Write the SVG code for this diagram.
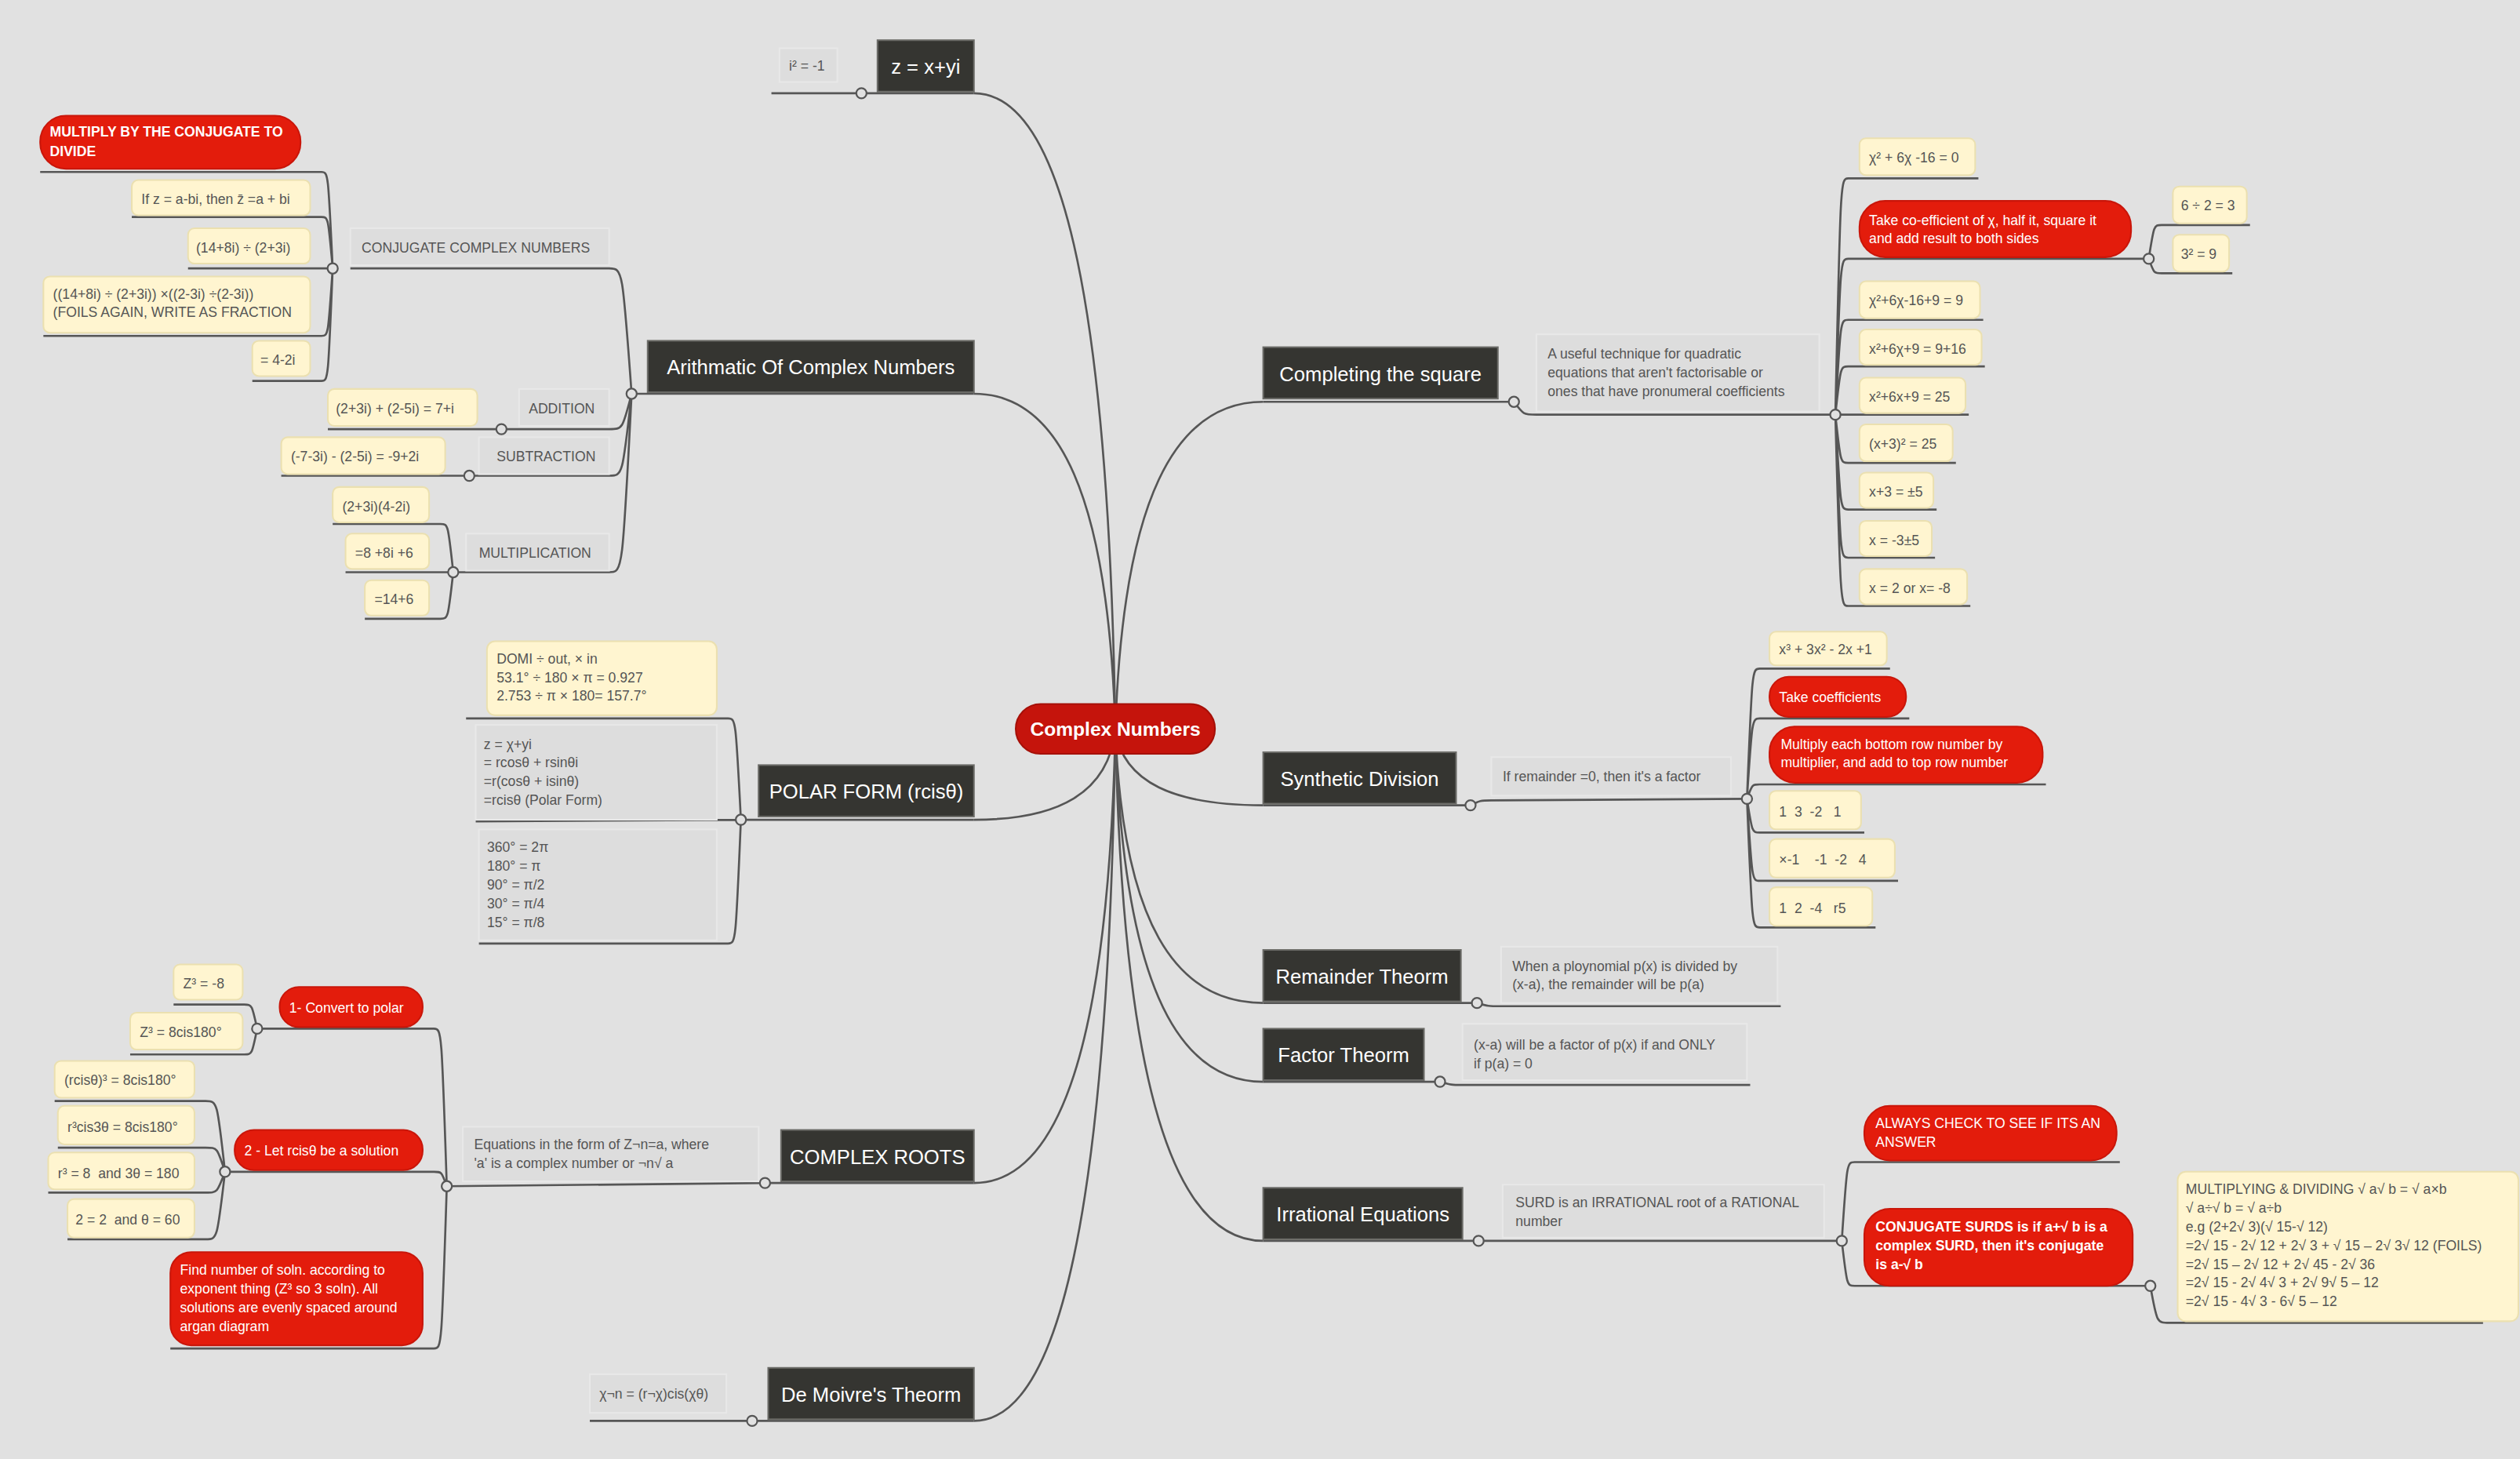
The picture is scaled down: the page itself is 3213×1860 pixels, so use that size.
<svg xmlns="http://www.w3.org/2000/svg" width="3213" height="1860" viewBox="0 0 3213 1860">
<style>
.c{fill:none;stroke:#565656;stroke-width:1.3}
.d{fill:#e1e1e1;stroke:#565656;stroke-width:1.1}
.m{fill:#353531;stroke:#6b6b67;stroke-width:1}
.mt{fill:#fff;font-family:"Liberation Sans",Arial,sans-serif;font-size:12.5px}
.y{fill:#fff5d0;stroke:#ebe0b0;stroke-width:1}
.g{fill:#dddddd;stroke:#e8e8e8;stroke-width:1}
.r{fill:#e31c0c;stroke:#c9160a;stroke-width:1}
.t{fill:#555;font-family:"Liberation Sans",Arial,sans-serif;font-size:8.6px;white-space:pre}
.rt{fill:#fff;font-family:"Liberation Sans",Arial,sans-serif;font-size:8.6px}
.b{font-weight:bold}
</style>
<rect width="3213" height="1860" fill="#e1e1e1"/>
<g transform="scale(2.04911)">
<g id="connectors">
<path class="c" d="M694,454 C689.6,176.8 658.8,58 606,58 M694,454 C689.6,307.7 658.8,245 606,245 M694,454 C689.6,493.2 658.8,510 606,510 M694,454 C689.6,651.4 658.8,736 606,736 M694,454 C689.6,755 658.8,884 606,884"/>
<path class="c" d="M694,454 C698.6,311.2 730.8,250 786,250 M694,454 C698.6,486.9 730.8,501 786,501 M694,454 C698.6,573 730.8,624 786,624 M694,454 C698.6,607.3 730.8,673 786,673 M694,454 C698.6,676.6 730.8,772 786,772"/>
<path class="c" d="M606,58 L480,58 M606,245 L393,245 M606,510 L461,510 M606,736 L476,736 M606,884 L367,884"/>
<path class="c" d="M786,250 L942,250 M786,501 L915,501 M786,624 L919,624 M786,673 L896,673 M786,772 L1146,772"/>
<path class="c" d="M393,245 C387.4,167 387.4,167 379,167 L218,167 M393,245 C387.4,267 387.4,267 379,267 L204,267 M393,245 C387.4,296 387.4,296 379,296 L175,296 M393,245 C387.4,356 387.4,356 379,356 L282,356"/>
<path class="c" d="M207,167 C204.2,107 204.2,107 200,107 L25,107 M207,167 C204.2,135 204.2,135 200,135 L82,135 M207,167 L117,167 M207,167 C204.2,209 204.2,209 200,209 L27,209 M207,167 C204.2,237 204.2,237 200,237 L157,237"/>
<path class="c" d="M282,356 C278.8,326 278.8,326 274,326 L207,326 M282,356 L215,356 M282,356 C278.8,385 278.8,385 274,385 L227,385"/>
<path class="c" d="M461,510 C457.8,447 457.8,447 453,447 L290,447 M461,510 L296,511 M461,510 C457.8,587 457.8,587 453,587 L298,587"/>
<path class="c" d="M476,736 L278,738 M278,738 C274.8,640 274.8,640 270,640 L160,640 M278,738 C274.8,729 274.8,729 270,729 L140,729 M278,738 C274.8,839 274.8,839 270,839 L106,839"/>
<path class="c" d="M160,640 C156.8,625 156.8,625 152,625 L108,625 M160,640 C156.8,656 156.8,656 152,656 L81,656"/>
<path class="c" d="M140,729 C135.2,685 135.2,685 128,685 L34,685 M140,729 C135.2,714 135.2,714 128,714 L36,714 M140,729 C135.2,742 135.2,742 128,742 L30,742 M140,729 C135.2,771 135.2,771 128,771 L42,771"/>
<path class="c" d="M942,250 C948,258 948,258 956,258 L1142,258"/>
<path class="c" d="M1142,258 C1145.2,111 1145.2,111 1150,111 L1231,111 M1142,258 C1145.2,161 1145.2,161 1150,161 L1337,161 M1142,258 C1145.2,199 1145.2,199 1150,199 L1234,199 M1142,258 C1145.2,228 1145.2,228 1150,228 L1235,228 M1142,258 L1225,258 M1142,258 C1145.2,288 1145.2,288 1150,288 L1217,288 M1142,258 C1145.2,317 1145.2,317 1150,317 L1205,317 M1142,258 C1145.2,347 1145.2,347 1150,347 L1204,347 M1142,258 C1145.2,377 1145.2,377 1150,377 L1226,377"/>
<path class="c" d="M1337,161 C1340.2,140 1340.2,140 1345,140 L1400,140 M1337,161 C1340.2,170 1340.2,170 1345,170 L1389,170"/>
<path class="c" d="M915,501 C921,498 921,498 928,498 L1087,497"/>
<path class="c" d="M1087,497 C1090.2,416 1090.2,416 1095,416 L1176,416 M1087,497 C1090.2,447 1090.2,447 1095,447 L1188,447 M1087,497 C1090.2,488 1090.2,488 1095,488 L1273,488 M1087,497 C1090.2,518 1090.2,518 1095,518 L1160,518 M1087,497 C1090.2,548 1090.2,548 1095,548 L1181,548 M1087,497 C1090.2,577 1090.2,577 1095,577 L1167,577"/>
<path class="c" d="M919,624 C926,626 926,626 934,626 L1108,626 M896,673 C903,675 903,675 910,675 L1089,675"/>
<path class="c" d="M1146,772 C1149.2,723 1149.2,723 1154,723 L1319,723 M1146,772 C1149.2,800 1149.2,800 1154,800 L1338,800 M1338,800 C1342,823 1342,823 1350,823 L1545,823"/>
</g>

<g id="center"><rect x="632" y="438" width="124" height="31" rx="15.5" fill="#c5140c" stroke="#a51008"/><text x="694" y="458" text-anchor="middle" class="mt b" style="font-size:12px">Complex Numbers</text></g>

<g id="n-z"><rect class="m" x="546" y="25" width="60" height="32"/><text class="mt" x="576" y="46" text-anchor="middle">z = x+yi</text></g>
<g id="n-i2"><rect class="g" x="485" y="30" width="36" height="21"/><text class="t" x="491" y="44">i² = -1</text></g>

<g id="n-arith"><rect class="m" x="403" y="212" width="203" height="32"/><text class="mt" x="504.5" y="233" text-anchor="middle">Arithmatic Of Complex Numbers</text></g>
<g id="n-conj"><rect class="g" x="218" y="142" width="161" height="23"/><text class="t" x="225" y="157">CONJUGATE COMPLEX NUMBERS</text></g>
<g id="n-mult-conj"><rect class="r" x="25" y="72" width="162" height="33" rx="16"/><text class="rt b" x="31" y="85">MULTIPLY BY THE CONJUGATE TO<tspan x="31" dy="12">DIVIDE</tspan></text></g>
<g id="n-ifz"><rect class="y" x="82" y="112" width="111" height="22" rx="4"/><text class="t" x="88" y="127">If z = a-bi, then z̄ =a + bi</text></g>
<g id="n-div"><rect class="y" x="117" y="142" width="76" height="22" rx="4"/><text class="t" x="122" y="157">(14+8i) ÷ (2+3i)</text></g>
<g id="n-foil"><rect class="y" x="27" y="172" width="166" height="35" rx="4"/><text class="t" x="33" y="186">((14+8i) ÷ (2+3i)) ×((2-3i) ÷(2-3i))<tspan x="33" dy="11">(FOILS AGAIN, WRITE AS FRACTION</tspan></text></g>
<g id="n-42i"><rect class="y" x="157" y="212" width="36" height="22" rx="4"/><text class="t" x="162" y="227">= 4-2i</text></g>
<g id="n-add"><rect class="g" x="323" y="242" width="56" height="23"/><text class="t" x="329" y="257">ADDITION</text></g>
<g id="n-add1"><rect class="y" x="204" y="242" width="93" height="23" rx="4"/><text class="t" x="209" y="257">(2+3i) + (2-5i) = 7+i</text></g>
<g id="n-sub"><rect class="g" x="298" y="272" width="81" height="23"/><text class="t" x="309" y="287">SUBTRACTION</text></g>
<g id="n-sub1"><rect class="y" x="175" y="272" width="102" height="23" rx="4"/><text class="t" x="181" y="287">(-7-3i) - (2-5i) = -9+2i</text></g>
<g id="n-mul"><rect class="g" x="290" y="332" width="89" height="23"/><text class="t" x="298" y="347">MULTIPLICATION</text></g>
<g id="n-mul1"><rect class="y" x="207" y="303" width="60" height="22" rx="4"/><text class="t" x="213" y="318">(2+3i)(4-2i)</text></g>
<g id="n-mul2"><rect class="y" x="215" y="332" width="52" height="22" rx="4"/><text class="t" x="221" y="347">=8 +8i +6</text></g>
<g id="n-mul3"><rect class="y" x="227" y="361" width="40" height="22" rx="4"/><text class="t" x="233" y="376">=14+6</text></g>

<g id="n-polar"><rect class="m" x="472" y="476" width="134" height="32"/><text class="mt" x="539" y="497" text-anchor="middle">POLAR FORM (rcisθ)</text></g>
<g id="n-domi"><rect class="y" x="303" y="399" width="143" height="46" rx="5"/><text class="t" x="309" y="413">DOMI ÷ out, × in<tspan x="309" dy="11.5">53.1° ÷ 180 × π = 0.927</tspan><tspan x="309" dy="11.5">2.753 ÷ π × 180= 157.7°</tspan></text></g>
<g id="n-zpol"><rect class="g" x="296" y="451" width="150" height="59"/><text class="t" x="301" y="466">z = χ+yi<tspan x="301" dy="11.5">= rcosθ + rsinθi</tspan><tspan x="301" dy="11.5">=r(cosθ + isinθ)</tspan><tspan x="301" dy="11.5">=rcisθ (Polar Form)</tspan></text></g>
<g id="n-deg"><rect class="g" x="298" y="516" width="148" height="69"/><text class="t" x="303" y="530">360° = 2π<tspan x="303" dy="11.7">180° = π</tspan><tspan x="303" dy="11.7">90° = π/2</tspan><tspan x="303" dy="11.7">30° = π/4</tspan><tspan x="303" dy="11.7">15° = π/8</tspan></text></g>

<g id="n-roots"><rect class="m" x="486" y="703" width="120" height="32"/><text class="mt" x="546" y="724" text-anchor="middle">COMPLEX ROOTS</text></g>
<g id="n-eqform"><rect class="g" x="288" y="701" width="184" height="34"/><text class="t" x="295" y="715">Equations in the form of Z¬n=a, where<tspan x="295" dy="11.5">'a' is a complex number or ¬n√ a</tspan></text></g>
<g id="n-conv"><rect class="r" x="174" y="614" width="89" height="25" rx="12"/><text class="rt" x="180" y="630">1- Convert to polar</text></g>
<g id="n-z3a"><rect class="y" x="108" y="600" width="43" height="22" rx="4"/><text class="t" x="114" y="615">Z³ = -8</text></g>
<g id="n-z3b"><rect class="y" x="81" y="630" width="70" height="23" rx="4"/><text class="t" x="87" y="645">Z³ = 8cis180°</text></g>
<g id="n-let"><rect class="r" x="146" y="703" width="117" height="25" rx="12"/><text class="rt" x="152" y="719">2 - Let rcisθ be a solution</text></g>
<g id="n-l1"><rect class="y" x="34" y="660" width="87" height="23" rx="4"/><text class="t" x="40" y="675">(rcisθ)³ = 8cis180°</text></g>
<g id="n-l2"><rect class="y" x="36" y="688" width="85" height="24" rx="4"/><text class="t" x="42" y="704">r³cis3θ = 8cis180°</text></g>
<g id="n-l3"><rect class="y" x="30" y="717" width="91" height="23" rx="4"/><text class="t" x="36" y="733">r³ = 8  and 3θ = 180</text></g>
<g id="n-l4"><rect class="y" x="42" y="746" width="79" height="24" rx="4"/><text class="t" x="47" y="762">2 = 2  and θ = 60</text></g>
<g id="n-find"><rect class="r" x="106" y="779" width="157" height="58" rx="13"/><text class="rt" x="112" y="793">Find number of soln. according to<tspan x="112" dy="11.7">exponent thing (Z³ so 3 soln). All</tspan><tspan x="112" dy="11.7">solutions are evenly spaced around</tspan><tspan x="112" dy="11.7">argan diagram</tspan></text></g>

<g id="n-demoivre"><rect class="m" x="478" y="851" width="128" height="32"/><text class="mt" x="542" y="872" text-anchor="middle">De Moivre's Theorm</text></g>
<g id="n-dm1"><rect class="g" x="367" y="855" width="85" height="24"/><text class="t" x="373" y="870">χ¬n = (r¬χ)cis(χθ)</text></g>

<g id="n-complete"><rect class="m" x="786" y="216" width="146" height="32"/><text class="mt" x="859" y="237" text-anchor="middle">Completing the square</text></g>
<g id="n-useful"><rect class="g" x="956" y="208" width="176" height="48"/><text class="t" x="963" y="223">A useful technique for quadratic<tspan x="963" dy="11.7">equations that aren't factorisable or</tspan><tspan x="963" dy="11.7">ones that have pronumeral coefficients</tspan></text></g>
<g id="n-c1"><rect class="y" x="1157" y="86" width="72" height="23" rx="4"/><text class="t" x="1163" y="101">χ² + 6χ -16 = 0</text></g>
<g id="n-c2"><rect class="r" x="1157" y="125" width="169" height="35" rx="16"/><text class="rt" x="1163" y="140">Take co-efficient of χ, half it, square it<tspan x="1163" dy="11.5">and add result to both sides</tspan></text></g>
<g id="n-c2a"><rect class="y" x="1352" y="116" width="46" height="23" rx="4"/><text class="t" x="1357" y="131">6 ÷ 2 = 3</text></g>
<g id="n-c2b"><rect class="y" x="1352" y="146" width="35" height="23" rx="4"/><text class="t" x="1357" y="161">3² = 9</text></g>
<g id="n-c3"><rect class="y" x="1157" y="175" width="75" height="23" rx="4"/><text class="t" x="1163" y="190">χ²+6χ-16+9 = 9</text></g>
<g id="n-c4"><rect class="y" x="1157" y="205" width="76" height="22" rx="4"/><text class="t" x="1163" y="220">x²+6χ+9 = 9+16</text></g>
<g id="n-c5"><rect class="y" x="1157" y="235" width="66" height="22" rx="4"/><text class="t" x="1163" y="250">x²+6x+9 = 25</text></g>
<g id="n-c6"><rect class="y" x="1157" y="264" width="58" height="23" rx="4"/><text class="t" x="1163" y="279">(x+3)² = 25</text></g>
<g id="n-c7"><rect class="y" x="1157" y="294" width="46" height="22" rx="4"/><text class="t" x="1163" y="309">x+3 = ±5</text></g>
<g id="n-c8"><rect class="y" x="1157" y="324" width="45" height="22" rx="4"/><text class="t" x="1163" y="339">x = -3±5</text></g>
<g id="n-c9"><rect class="y" x="1157" y="354" width="67" height="22" rx="4"/><text class="t" x="1163" y="369">x = 2 or x= -8</text></g>

<g id="n-synth"><rect class="m" x="786" y="468" width="120" height="32"/><text class="mt" x="846" y="489" text-anchor="middle">Synthetic Division</text></g>
<g id="n-ifrem"><rect class="g" x="928" y="471" width="149" height="24"/><text class="t" x="935" y="486">If remainder =0, then it's a factor</text></g>
<g id="n-s1"><rect class="y" x="1101" y="393" width="73" height="21" rx="4"/><text class="t" x="1107" y="407">x³ + 3x² - 2x +1</text></g>
<g id="n-s2"><rect class="r" x="1101" y="421" width="85" height="25" rx="12"/><text class="rt" x="1107" y="437">Take coefficients</text></g>
<g id="n-s3"><rect class="r" x="1101" y="452" width="170" height="35" rx="16"/><text class="rt" x="1108" y="466">Multiply each bottom row number by<tspan x="1108" dy="11.5">multiplier, and add to top row number</tspan></text></g>
<g id="n-s4"><rect class="y" x="1101" y="492" width="57" height="24" rx="4"/><text class="t" x="1107" y="508" xml:space="preserve">1  3  -2   1</text></g>
<g id="n-s5"><rect class="y" x="1101" y="522" width="78" height="24" rx="4"/><text class="t" x="1107" y="538" xml:space="preserve">×-1    -1  -2   4</text></g>
<g id="n-s6"><rect class="y" x="1101" y="552" width="64" height="24" rx="4"/><text class="t" x="1107" y="568" xml:space="preserve">1  2  -4   r5</text></g>

<g id="n-rem"><rect class="m" x="786" y="591" width="123" height="32"/><text class="mt" x="847.5" y="612" text-anchor="middle">Remainder Theorm</text></g>
<g id="n-rem1"><rect class="g" x="934" y="589" width="172" height="35"/><text class="t" x="941" y="604">When a ploynomial p(x) is divided by<tspan x="941" dy="11.5">(x-a), the remainder will be p(a)</tspan></text></g>
<g id="n-fac"><rect class="m" x="786" y="640" width="100" height="32"/><text class="mt" x="836" y="661" text-anchor="middle">Factor Theorm</text></g>
<g id="n-fac1"><rect class="g" x="910" y="637" width="177" height="35"/><text class="t" x="917" y="653">(x-a) will be a factor of p(x) if and ONLY<tspan x="917" dy="11.5">if p(a) = 0</tspan></text></g>

<g id="n-irr"><rect class="m" x="786" y="739" width="124" height="32"/><text class="mt" x="848" y="760" text-anchor="middle">Irrational Equations</text></g>
<g id="n-surd"><rect class="g" x="935" y="737" width="200" height="33"/><text class="t" x="943" y="751">SURD is an IRRATIONAL root of a RATIONAL<tspan x="943" dy="12">number</tspan></text></g>
<g id="n-always"><rect class="r" x="1160" y="688" width="157" height="34" rx="16"/><text class="rt" x="1167" y="702">ALWAYS CHECK TO SEE IF ITS AN<tspan x="1167" dy="11.5">ANSWER</tspan></text></g>
<g id="n-conjsurd"><rect class="r" x="1160" y="752" width="167" height="48" rx="16"/><text class="rt b" x="1167" y="766">CONJUGATE SURDS is if  a+√ b is a<tspan x="1167" dy="11.7">complex SURD, then it's conjugate</tspan><tspan x="1167" dy="11.7">is a-√ b</tspan></text></g>
<g id="n-multdiv"><rect class="y" x="1355" y="729" width="212" height="93" rx="5"/><text class="t" x="1360" y="743">MULTIPLYING &amp; DIVIDING √ a√ b = √ a×b<tspan x="1360" dy="11.6">√ a÷√ b = √ a÷b</tspan><tspan x="1360" dy="11.6">e.g (2+2√ 3)(√ 15-√ 12)</tspan><tspan x="1360" dy="11.6">=2√ 15 - 2√ 12 + 2√ 3 + √ 15 – 2√ 3√ 12 (FOILS)</tspan><tspan x="1360" dy="11.6">=2√ 15 – 2√ 12 + 2√ 45 - 2√ 36</tspan><tspan x="1360" dy="11.6">=2√ 15 - 2√ 4√ 3 + 2√ 9√ 5 – 12</tspan><tspan x="1360" dy="11.6">=2√ 15 - 4√ 3 - 6√ 5 – 12</tspan></text></g>

<g id="dots">
<circle class="d" cx="536" cy="58" r="3.2"/><circle class="d" cx="393" cy="245" r="3.2"/><circle class="d" cx="207" cy="167" r="3.2"/><circle class="d" cx="312" cy="267" r="3.2"/><circle class="d" cx="292" cy="296" r="3.2"/><circle class="d" cx="282" cy="356" r="3.2"/><circle class="d" cx="461" cy="510" r="3.2"/><circle class="d" cx="476" cy="736" r="3.2"/><circle class="d" cx="278" cy="738" r="3.2"/><circle class="d" cx="160" cy="640" r="3.2"/><circle class="d" cx="140" cy="729" r="3.2"/><circle class="d" cx="468" cy="884" r="3.2"/>
<circle class="d" cx="942" cy="250" r="3.2"/><circle class="d" cx="1142" cy="258" r="3.2"/><circle class="d" cx="1337" cy="161" r="3.2"/><circle class="d" cx="915" cy="501" r="3.2"/><circle class="d" cx="1087" cy="497" r="3.2"/><circle class="d" cx="919" cy="624" r="3.2"/><circle class="d" cx="896" cy="673" r="3.2"/><circle class="d" cx="920" cy="772" r="3.2"/><circle class="d" cx="1146" cy="772" r="3.2"/><circle class="d" cx="1338" cy="800" r="3.2"/>
</g>
</g>
</svg>
